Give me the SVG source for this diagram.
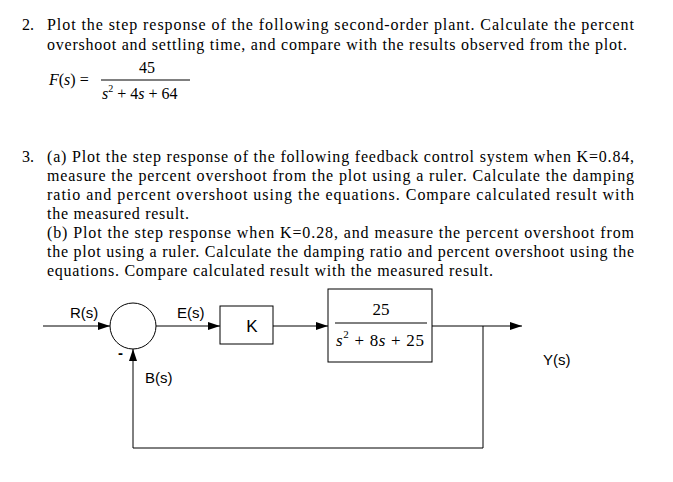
<svg xmlns="http://www.w3.org/2000/svg" width="673" height="482" viewBox="0 0 673 482">
<defs><marker id="a" markerWidth="12" markerHeight="8" refX="12" refY="4" orient="auto" markerUnits="userSpaceOnUse"><path d="M0,0L12,4L0,8z" fill="#000"/></marker></defs>
<rect width="673" height="482" fill="#fff"/>
<g id="text" font-family="'Liberation Serif', 'Times New Roman', serif" font-size="16" fill="#000">
<text x="22" y="30">2.</text>
<text x="47" y="30" textLength="587" lengthAdjust="spacing">Plot the step response of the following second-order plant. Calculate the percent</text>
<text x="47" y="50" textLength="580" lengthAdjust="spacing">overshoot and settling time, and compare with the results observed from the plot.</text>
<text x="49" y="85"><tspan font-style="italic">F</tspan>(<tspan font-style="italic">s</tspan>) =</text>
<text x="147" y="73" text-anchor="middle">45</text>
<line x1="101" y1="80" x2="190" y2="80" stroke="#000"/>
<text x="102" y="99"><tspan font-style="italic">s</tspan><tspan font-size="10" dy="-7">2</tspan><tspan dy="7"> + 4</tspan><tspan font-style="italic">s</tspan> + 64</text>
<text x="22" y="162">3.</text>
<text x="47" y="162" textLength="587" lengthAdjust="spacing">(a) Plot the step response of the following feedback control system when K=0.84,</text>
<text x="47" y="181" textLength="587" lengthAdjust="spacing">measure the percent overshoot from the plot using a ruler. Calculate the damping</text>
<text x="47" y="200" textLength="587" lengthAdjust="spacing">ratio and percent overshoot using the equations. Compare calculated result with</text>
<text x="47" y="219" textLength="142" lengthAdjust="spacing">the measured result.</text>
<text x="47" y="238" textLength="587" lengthAdjust="spacing">(b) Plot the step response when K=0.28, and measure the percent overshoot from</text>
<text x="47" y="257" textLength="587" lengthAdjust="spacing">the plot using a ruler. Calculate the damping ratio and percent overshoot using the</text>
<text x="47" y="276" textLength="446" lengthAdjust="spacing">equations. Compare calculated result with the measured result.</text>
</g>
<g id="sum"><circle cx="133" cy="326" r="23" fill="none" stroke="#000"/></g>
<g id="K"><rect x="220" y="306" width="53" height="38" fill="none" stroke="#000"/><text x="252" y="332" font-family="'Liberation Sans', Arial, sans-serif" font-size="17" text-anchor="middle">K</text></g>
<g id="G" font-family="'Liberation Serif', 'Times New Roman', serif" font-size="17"><rect x="328" y="289" width="104" height="73" fill="none" stroke="#000"/><text x="381" y="315" text-anchor="middle">25</text><line x1="335" y1="323" x2="427" y2="323" stroke="#000"/><text x="336" y="346" textLength="88" lengthAdjust="spacing"><tspan font-style="italic">s</tspan><tspan font-size="11" dy="-8">2</tspan><tspan dy="8"> + 8</tspan><tspan font-style="italic">s</tspan> + 25</text></g>
<g id="connectors" stroke="#000" fill="none">
<line x1="43" y1="326" x2="110" y2="326" marker-end="url(#a)"/>
<line x1="156" y1="326" x2="220" y2="326" marker-end="url(#a)"/>
<line x1="273" y1="326" x2="328" y2="326" marker-end="url(#a)"/>
<line x1="432" y1="326" x2="522" y2="326" marker-end="url(#a)"/>
<polyline points="483,326 483,448 133,448 133,349" marker-end="url(#a)"/>
</g>
<g id="labels" font-family="'Liberation Sans', Arial, sans-serif" font-size="15">
<text x="70" y="318">R(s)</text>
<text x="177" y="318">E(s)</text>
<text x="145" y="383">B(s)</text>
<text x="543" y="365">Y(s)</text>
<text x="118" y="358" font-weight="bold">-</text>
</g>
</svg>
